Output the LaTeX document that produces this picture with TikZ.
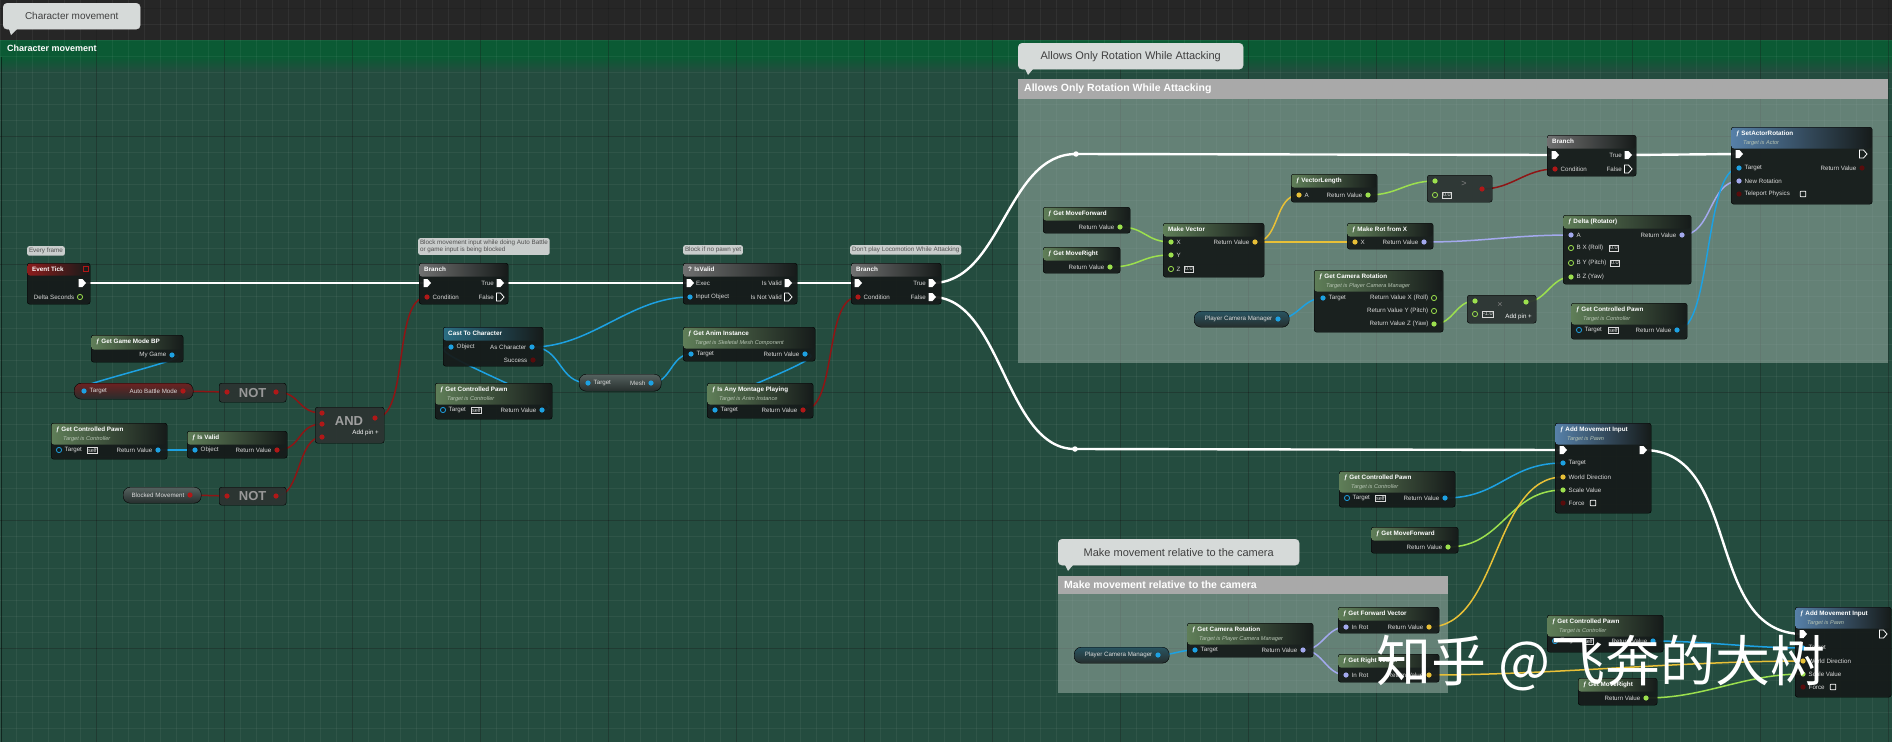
\documentclass[tikz,border=0pt]{standalone}
\usepackage{fontspec}
\setmainfont{Liberation Sans}
\newfontfamily\zhfont{Noto Sans CJK SC}
\usepackage{tikz}
\usetikzlibrary{calc}
\usetikzlibrary{positioning}

\pgfdeclarelayer{board}
\pgfdeclarelayer{wires}
\pgfdeclarelayer{front}
\pgfsetlayers{board,wires,main,front}

\definecolor{topbg}{HTML}{262626}
\definecolor{bandgreen}{HTML}{0B5A34}
\definecolor{boardgreen}{HTML}{244C3F}
\definecolor{grpbody}{HTML}{A4B6AE}
\definecolor{grphead}{HTML}{A9A9A9}
\definecolor{bubblegray}{HTML}{D6DAD9}
\definecolor{notegray}{HTML}{C9CDCC}
\definecolor{nodebg}{HTML}{161B1A}
\definecolor{opbg}{HTML}{2C3432}
\definecolor{pilltop}{HTML}{55625F}
\definecolor{pillbg}{HTML}{262E2D}
\definecolor{hdfunc}{HTML}{5F7E58}
\definecolor{hdgray}{HTML}{707070}
\definecolor{hdcast}{HTML}{2B6E84}
\definecolor{hdevent}{HTML}{8B1C1C}
\definecolor{hdcall}{HTML}{5680A8}
\definecolor{objc}{HTML}{1DA1E2}
\definecolor{boolc}{HTML}{8E1515}
\definecolor{pinred}{HTML}{B01818}
\definecolor{floatc}{HTML}{9CE04E}
\definecolor{vecc}{HTML}{E8C037}
\definecolor{rotc}{HTML}{A3A9EE}
\definecolor{lblc}{HTML}{DADADA}
\definecolor{notetext}{HTML}{505050}

\tikzset{
  gridminor/.style={draw=white, opacity=0.05, line width=0.5pt},
  gridmajor/.style={draw=black, opacity=0.3, line width=0.7pt},
  bigbubble/.style={fill=bubblegray, draw=white!70!gray, rounded corners=4pt, anchor=north west, inner sep=0pt, text=notetext!80!black},
  smallnote/.style={fill=notegray, rounded corners=2pt, anchor=north west, inner sep=1.8pt, text=notetext, font=\fontsize{6.3}{7.2}\selectfont, align=left},
  bandtitle/.style={anchor=west, inner sep=0pt, text=white, font=\bfseries\fontsize{9}{10}\selectfont},
  grptitle/.style={anchor=west, inner sep=0pt, font=\bfseries\fontsize{10.5}{12}\selectfont},
  bpbody/.style={fill=nodebg, fill opacity=0.94, draw=black, rounded corners=2.5pt, anchor=north west, inner sep=0pt},
  bptitle/.style={anchor=west, inner sep=0pt, text=white, font=\bfseries\fontsize{6.3}{7}\selectfont},
  bpsubt/.style={anchor=west, inner sep=0pt, text=white!55!hdfunc, font=\itshape\fontsize{5.6}{6}\selectfont},
  pinlbl/.style={inner sep=0pt, text=lblc, font=\fontsize{6.2}{7}\selectfont},
  opbox/.style={bpbody, fill=opbg, text=gray!75, font=\bfseries\fontsize{13}{13}\selectfont},
  pill/.style={draw=black, rounded corners=7pt, anchor=north west, inner sep=0pt, top color=#1, bottom color=pillbg},
  pill/.default=pilltop,
  valbox/.style={draw=lblc, line width=0.5pt, inner sep=0.8pt, anchor=west, text=lblc, font=\fontsize{5.6}{6}\selectfont},
  chkbox/.style={draw=white, line width=0.7pt, minimum size=5.5pt, inner sep=0pt, rounded corners=0.5pt},
  reroute/.style={circle, fill=white, minimum size=5.5pt, inner sep=0pt},
  pobj/.style={fill=objc}, pobjh/.style={draw=objc, line width=0.8pt},
  pbool/.style={fill=pinred}, pdim/.style={fill=pinred!50!black},
  pflt/.style={fill=floatc}, pflth/.style={draw=floatc, line width=0.8pt},
  pvec/.style={fill=vecc}, prot/.style={fill=rotc},
  pex/.style={fill=white}, pexh/.style={draw=white, line width=0.8pt},
  execw/.style={draw=white, line width=2.4pt},
  wire/.style={draw=#1, line width=1.5pt}
}

% blueprint node: name, x, y, width, height, header colour, header height, title
\newcommand{\bpnode}[8]{%
  \node[bpbody, minimum width=#4pt, minimum height=#5pt] (#1) at (#2,#3) {};
  \shade[left color=#6, right color=nodebg, rounded corners=2.5pt] (#2+0.5,#3+0.5) rectangle ++(#4-1,#7);
  \node[bptitle] (#1-title) at (#2+5,#3+6.5) {#8};
}
\newcommand{\bpsub}[4]{\node[bpsubt] (#1-sub) at (#2+12,#3+16) {#4};}
\newcommand{\inpin}[5]{%
  \coordinate (#1) at (#2,#3);
  \path[#4] (#1) circle (2.6pt);
  \node[pinlbl, anchor=west] (#1-lbl) at (#2+5.5,#3) {#5};
}
\newcommand{\outpin}[5]{%
  \coordinate (#1) at (#2,#3);
  \path[#4] (#1) circle (2.6pt);
  \node[pinlbl, anchor=east] (#1-lbl) at (#2-5.5,#3) {#5};
}
\newcommand{\execin}[5]{%
  \coordinate (#1) at (#2,#3);
  \path[#4] (#2-3.5,#3-4) -- ++(4,0) -- ++(3.5,4) -- ++(-3.5,4) -- ++(-4,0) -- cycle;
  \node[pinlbl, anchor=west] (#1-lbl) at (#2+6,#3) {#5};
}
\newcommand{\execout}[5]{%
  \coordinate (#1) at (#2,#3);
  \path[#4] (#2-3.5,#3-4) -- ++(4,0) -- ++(3.5,4) -- ++(-3.5,4) -- ++(-4,0) -- cycle;
  \node[pinlbl, anchor=east] (#1-lbl) at (#2-6,#3) {#5};
}

\begin{document}
\begin{tikzpicture}[x=1pt,y=-1pt]
\useasboundingbox (0,0) rectangle (1892,742);

\begin{pgfonlayer}{board}
% graph background and the big comment
\fill[topbg] (0,0) rectangle (1892,742);
\fill[boardgreen] (0,40) rectangle (1892,742);
\shade[top color=bandgreen, bottom color=boardgreen] (0,57) rectangle (1892,72);
\fill[bandgreen] (0,40) rectangle (1892,57);
\foreach \gx in {0,16,...,1888} \draw[gridminor] (\gx,0) -- (\gx,742);
\foreach \gy in {8,24,...,740} \draw[gridminor] (0,\gy) -- (1892,\gy);
\foreach \gx in {96,224,...,1888} \draw[gridmajor] (\gx,0) -- (\gx,742);
\foreach \gy in {8,136,...,740} \draw[gridmajor] (0,\gy) -- (1892,\gy);
\draw[black, opacity=0.5, line width=1pt] (1.5,57) -- (1.5,742);
\node[bandtitle] (bandtext) at (7,48.5) {Character movement};
\node[bigbubble, minimum width=137pt, minimum height=26pt, font=\fontsize{10}{12}\selectfont] (topnote) at (3,3) {Character movement};
\fill[bubblegray] (9,29) -- (17,29) -- (11,35) -- cycle;

% group: rotation while attacking
\fill[grpbody, fill opacity=0.5] (1018,99) rectangle (1888,363);
\fill[grphead] (1018,79) rectangle (1888,99);
\node[grptitle, text=white] (grot) at (1024,89) {Allows Only Rotation While Attacking};
\node[bigbubble, minimum width=225pt, minimum height=26pt, font=\fontsize{11}{13}\selectfont] (grotnote) at (1018,43) {Allows Only Rotation While Attacking};
\fill[bubblegray] (1025,69) -- (1033,69) -- (1028,75) -- cycle;

% group: relative to camera
\fill[grpbody, fill opacity=0.5] (1058,594) rectangle (1448,693);
\fill[grphead] (1058,576) rectangle (1448,594);
\node[grptitle, text=white] (gcam) at (1064,585) {Make movement relative to the camera};
\node[bigbubble, minimum width=241pt, minimum height=26pt, font=\fontsize{11}{13}\selectfont] (gcamnote) at (1058,539) {Make movement relative to the camera};
\fill[bubblegray] (1065,565) -- (1073,565) -- (1068,571) -- cycle;
\end{pgfonlayer}

% ---- left part
\node[smallnote] (noteframe) at (27,246) {Every frame};
\bpnode{tick}{27}{263}{63}{41}{hdevent}{12}{Event Tick}
\draw[pinred, line width=0.7pt] (83,266) rectangle (88,271);
\execout{tick-exec}{82}{283}{pex}{}
\outpin{tick-delta}{80}{297}{pflth}{Delta Seconds}

\bpnode{gmbp}{91}{335}{92}{27}{hdfunc}{14}{ƒ Get Game Mode BP}
\outpin{gmbp-game}{172}{355}{pobj}{My Game}

\node[pill=hdevent!70!pillbg, minimum width=119pt, minimum height=16pt] (abm) at (74,383) {};
\inpin{abm-target}{84}{391}{pobj}{Target}
\outpin{abm-out}{183}{391}{pbool}{Auto Battle Mode}

\node[opbox, minimum width=67pt, minimum height=19pt] (not1) at (219,383) {NOT};
\inpin{not1-in}{227}{392}{pbool}{}
\outpin{not1-out}{276}{392}{pbool}{}

\node[opbox, minimum width=69pt, minimum height=36pt] (andop) at (315,407) {};
\node[inner sep=0pt, text=gray!75, font=\bfseries\fontsize{13}{13}\selectfont] (andtxt) at (349,421) {AND};
\node[pinlbl, anchor=east, text=white] (andadd) at (379,433) {Add pin +};
\inpin{and-a}{322}{413}{pbool}{}
\inpin{and-b}{322}{424}{pbool}{}
\inpin{and-c}{322}{437}{pbool}{}
\outpin{and-out}{375}{418}{pbool}{}

\bpnode{gcpa}{51}{423}{116}{36}{hdfunc}{21}{ƒ Get Controlled Pawn}
\bpsub{gcpa}{51}{423}{Target is Controller}
\inpin{gcpa-target}{59}{450}{pobjh}{Target}
\node[valbox] (gcpa-self) at (87,450) {self};
\outpin{gcpa-rv}{158}{450}{pobj}{Return Value}

\bpnode{isv}{187}{431}{100}{27}{hdfunc}{13}{ƒ Is Valid}
\inpin{isv-obj}{195}{450}{pobj}{Object}
\outpin{isv-rv}{277}{450}{pbool}{Return Value}

\node[pill, minimum width=78pt, minimum height=16pt] (blocked) at (123,487) {};
\outpin{blocked-out}{190}{495}{pbool}{Blocked Movement}

\node[opbox, minimum width=67pt, minimum height=18pt] (not2) at (219,487) {NOT};
\inpin{not2-in}{227}{496}{pbool}{}
\outpin{not2-out}{276}{496}{pbool}{}

% ---- middle part
\node[smallnote] (noteblock) at (418,238) {Block movement input while doing Auto Battle\\or game input is being blocked};
\bpnode{bra}{419}{263}{89}{41}{hdgray}{13}{Branch}
\execin{bra-exec}{427}{283}{pex}{}
\execout{bra-true}{500}{283}{pex}{True}
\inpin{bra-cond}{427}{297}{pbool}{Condition}
\execout{bra-false}{500}{297}{pexh}{False}

\bpnode{cast}{443}{327}{100}{39}{hdcast}{13}{Cast To Character}
\inpin{cast-obj}{451}{347}{pobj}{Object}
\outpin{cast-char}{532}{347}{pobj}{As Character}
\outpin{cast-ok}{533}{360}{pdim}{Success}

\bpnode{gcpb}{435}{383}{117}{36}{hdfunc}{21}{ƒ Get Controlled Pawn}
\bpsub{gcpb}{435}{383}{Target is Controller}
\inpin{gcpb-target}{443}{410}{pobjh}{Target}
\node[valbox] (gcpb-self) at (471,410) {self};
\outpin{gcpb-rv}{542}{410}{pobj}{Return Value}

\node[pill, minimum width=82pt, minimum height=17pt] (mesh) at (579,374) {};
\inpin{mesh-target}{588}{383}{pobj}{Target}
\outpin{mesh-out}{651}{383}{pobj}{Mesh}

\node[smallnote] (notepawn) at (683,245) {Block if no pawn yet};
\bpnode{isvm}{683}{263}{114}{41}{hdgray}{13}{? IsValid}
\execin{isvm-exec}{690}{283}{pex}{Exec}
\execout{isvm-yes}{788}{283}{pex}{Is Valid}
\inpin{isvm-obj}{690}{297}{pobj}{Input Object}
\execout{isvm-no}{788}{297}{pexh}{Is Not Valid}

\bpnode{gai}{683}{327}{132}{34}{hdfunc}{21}{ƒ Get Anim Instance}
\bpsub{gai}{683}{327}{Target is Skeletal Mesh Component}
\inpin{gai-target}{691}{354}{pobj}{Target}
\outpin{gai-rv}{805}{354}{pobj}{Return Value}

\bpnode{iamp}{707}{383}{106}{35}{hdfunc}{21}{ƒ Is Any Montage Playing}
\bpsub{iamp}{707}{383}{Target is Anim Instance}
\inpin{iamp-target}{715}{410}{pobj}{Target}
\outpin{iamp-rv}{803}{410}{pbool}{Return Value}

\node[smallnote] (notelocomotion) at (850,245) {Don't play Locomotion While Attacking};
\bpnode{brb}{851}{263}{90}{41}{hdgray}{13}{Branch}
\execin{brb-exec}{858}{283}{pex}{}
\execout{brb-true}{932}{283}{pex}{True}
\inpin{brb-cond}{858}{297}{pbool}{Condition}
\execout{brb-false}{932}{297}{pex}{False}

\node[reroute] (rra) at (1076,154) {};
\node[reroute] (rrb) at (1075,449) {};

% ---- rotation group
\bpnode{gmfa}{1043}{207}{87}{26}{hdfunc}{13}{ƒ Get MoveForward}
\outpin{gmfa-rv}{1120}{227}{pflt}{Return Value}
\bpnode{gmra}{1043}{247}{77}{26}{hdfunc}{13}{ƒ Get MoveRight}
\outpin{gmra-rv}{1110}{267}{pflt}{Return Value}

\bpnode{mvec}{1163}{223}{101}{54}{hdfunc}{13}{Make Vector}
\inpin{mvec-x}{1171}{242}{pflt}{X}
\inpin{mvec-y}{1171}{255}{pflt}{Y}
\inpin{mvec-z}{1171}{269}{pflth}{Z}
\node[valbox] (mvec-zval) at (1184,269) {0.0};
\outpin{mvec-rv}{1255}{242}{pvec}{Return Value}

\bpnode{vlen}{1291}{174}{86}{28}{hdfunc}{13}{ƒ VectorLength}
\inpin{vlen-a}{1299}{195}{pvec}{A}
\outpin{vlen-rv}{1368}{195}{pflt}{Return Value}

\node[bpbody, fill=opbg, minimum width=65pt, minimum height=27pt] (cmp) at (1427,175) {};
\node[inner sep=0pt, text=gray, font=\fontsize{9}{9}\selectfont] (cmp-sym) at (1464,184) {>};
\inpin{cmp-a}{1435}{181}{pflt}{}
\inpin{cmp-b}{1435}{195}{pflth}{}
\node[valbox] (cmp-bval) at (1442,195) {0.0};
\outpin{cmp-out}{1482}{189}{pbool}{}

\bpnode{mrot}{1347}{223}{86}{26}{hdfunc}{13}{ƒ Make Rot from X}
\inpin{mrot-x}{1355}{242}{pvec}{X}
\outpin{mrot-rv}{1424}{242}{prot}{Return Value}

\bpnode{gcra}{1314}{270}{129}{62}{hdfunc}{21}{ƒ Get Camera Rotation}
\bpsub{gcra}{1314}{270}{Target is Player Camera Manager}
\inpin{gcra-target}{1323}{298}{pobj}{Target}
\outpin{gcra-x}{1434}{298}{pflth}{Return Value X (Roll)}
\outpin{gcra-y}{1434}{311}{pflth}{Return Value Y (Pitch)}
\outpin{gcra-z}{1434}{324}{pflt}{Return Value Z (Yaw)}

\node[pill=hdcast!60!pillbg, minimum width=95pt, minimum height=16pt] (pcma) at (1194,311) {};
\outpin{pcma-out}{1278}{319}{pobj}{Player Camera Manager}

\bpnode{brc}{1547}{135}{89}{41}{hdgray}{13}{Branch}
\execin{brc-exec}{1555}{155}{pex}{}
\execout{brc-true}{1628}{155}{pex}{True}
\inpin{brc-cond}{1555}{169}{pbool}{Condition}
\execout{brc-false}{1628}{169}{pexh}{False}

\node[bpbody, fill=opbg, minimum width=69pt, minimum height=28pt] (mul) at (1467,295) {};
\node[inner sep=0pt, text=gray, font=\fontsize{9}{9}\selectfont] (mul-sym) at (1500,305) {×};
\node[pinlbl, anchor=east, text=white] (mul-add) at (1532,317) {Add pin +};
\inpin{mul-a}{1475}{301}{pflt}{}
\inpin{mul-b}{1475}{314}{pflth}{}
\node[valbox] (mul-bval) at (1482,314) {-1.0};
\outpin{mul-out}{1526}{302}{pflt}{}

\bpnode{drot}{1563}{215}{128}{69}{hdfunc}{13}{ƒ Delta (Rotator)}
\inpin{drot-a}{1571}{235}{prot}{A}
\inpin{drot-bx}{1571}{248}{pflth}{B X (Roll)}
\node[valbox] (drot-bxval) at (1609,248) {0.0};
\inpin{drot-by}{1571}{263}{pflth}{B Y (Pitch)}
\node[valbox] (drot-byval) at (1610,263) {0.0};
\inpin{drot-bz}{1571}{277}{pflt}{B Z (Yaw)}
\outpin{drot-rv}{1682}{235}{prot}{Return Value}

\bpnode{gcpc}{1571}{303}{116}{36}{hdfunc}{21}{ƒ Get Controlled Pawn}
\bpsub{gcpc}{1571}{303}{Target is Controller}
\inpin{gcpc-target}{1579}{330}{pobjh}{Target}
\node[valbox] (gcpc-self) at (1608,330) {self};
\outpin{gcpc-rv}{1677}{330}{pobj}{Return Value}

\bpnode{sar}{1731}{127}{141}{77}{hdcall}{21}{ƒ SetActorRotation}
\bpsub{sar}{1731}{127}{Target is Actor}
\execin{sar-exec}{1739}{154}{pex}{}
\execout{sar-then}{1863}{154}{pexh}{}
\inpin{sar-target}{1739}{168}{pobj}{Target}
\outpin{sar-rv}{1862}{168}{pdim}{Return Value}
\inpin{sar-rot}{1739}{181}{prot}{New Rotation}
\inpin{sar-tp}{1739}{194}{pdim}{Teleport Physics}
\node[chkbox] (sar-tpbox) at (1803,194) {};

% ---- movement input
\bpnode{amia}{1555}{423}{96}{90}{hdcall}{21}{ƒ Add Movement Input}
\bpsub{amia}{1555}{423}{Target is Pawn}
\execin{amia-exec}{1563}{450}{pex}{}
\execout{amia-then}{1643}{450}{pex}{}
\inpin{amia-target}{1563}{463}{pobj}{Target}
\inpin{amia-dir}{1563}{477}{pvec}{World Direction}
\inpin{amia-scale}{1563}{490}{pflt}{Scale Value}
\inpin{amia-force}{1563}{503}{pdim}{Force}
\node[chkbox] (amia-forcebox) at (1593,503) {};

\bpnode{gcpd}{1339}{471}{116}{36}{hdfunc}{21}{ƒ Get Controlled Pawn}
\bpsub{gcpd}{1339}{471}{Target is Controller}
\inpin{gcpd-target}{1347}{498}{pobjh}{Target}
\node[valbox] (gcpd-self) at (1375,498) {self};
\outpin{gcpd-rv}{1445}{498}{pobj}{Return Value}

\bpnode{gmfb}{1371}{527}{87}{26}{hdfunc}{13}{ƒ Get MoveForward}
\outpin{gmfb-rv}{1448}{547}{pflt}{Return Value}

\node[pill=hdcast!60!pillbg, minimum width=95pt, minimum height=16pt] (pcmb) at (1074,647) {};
\outpin{pcmb-out}{1158}{655}{pobj}{Player Camera Manager}

\bpnode{gcrb}{1187}{623}{126}{34}{hdfunc}{21}{ƒ Get Camera Rotation}
\bpsub{gcrb}{1187}{623}{Target is Player Camera Manager}
\inpin{gcrb-target}{1195}{650}{pobj}{Target}
\outpin{gcrb-rv}{1303}{650}{prot}{Return Value}

\bpnode{gfv}{1338}{607}{101}{26}{hdfunc}{13}{ƒ Get Forward Vector}
\inpin{gfv-rot}{1346}{627}{prot}{In Rot}
\outpin{gfv-rv}{1429}{627}{pvec}{Return Value}

\bpnode{grv}{1338}{654}{101}{28}{hdfunc}{13}{ƒ Get Right Vector}
\inpin{grv-rot}{1346}{675}{prot}{In Rot}
\outpin{grv-rv}{1429}{675}{pvec}{Return Value}

\bpnode{gcpe}{1547}{615}{116}{37}{hdfunc}{21}{ƒ Get Controlled Pawn}
\bpsub{gcpe}{1547}{615}{Target is Controller}
\inpin{gcpe-target}{1555}{641}{pobjh}{Target}
\node[valbox] (gcpe-self) at (1583,641) {self};
\outpin{gcpe-rv}{1653}{641}{pobj}{Return Value}

\bpnode{gmrb}{1578}{678}{79}{27}{hdfunc}{13}{ƒ Get MoveRight}
\outpin{gmrb-rv}{1646}{698}{pflt}{Return Value}

\bpnode{amib}{1795}{607}{96}{90}{hdcall}{21}{ƒ Add Movement Input}
\bpsub{amib}{1795}{607}{Target is Pawn}
\execin{amib-exec}{1803}{634}{pex}{}
\execout{amib-then}{1883}{634}{pexh}{}
\inpin{amib-target}{1803}{648}{pobj}{Target}
\inpin{amib-dir}{1803}{661}{pvec}{World Direction}
\inpin{amib-scale}{1803}{674}{pflt}{Scale Value}
\inpin{amib-force}{1803}{687}{pdim}{Force}
\node[chkbox] (amib-forcebox) at (1833,687) {};

\begin{pgfonlayer}{wires}
% exec flow
\draw[execw] (tick-exec) -- (bra-exec);
\draw[execw] (bra-true) -- (isvm-exec);
\draw[execw] (isvm-yes) -- (brb-exec);
\draw[execw] (brb-true) .. controls +(70,0) and +(-70,0) .. (rra.center);
\draw[execw] (rra.center) -- (brc-exec);
\draw[execw] (brc-true) -- (sar-exec);
\draw[execw] (brb-false) .. controls +(70,0) and +(-70,0) .. (rrb.center);
\draw[execw] (rrb.center) -- (amia-exec);
\draw[execw] (amia-then) .. controls +(100,0) and +(-100,0) .. (amib-exec);
% left data
\draw[wire=objc] (gmbp-game) .. controls +(40,0) and +(-40,0) .. (abm-target);
\draw[wire=boolc] (abm-out) -- (not1-in);
\draw[wire=boolc] (not1-out) .. controls +(25,0) and +(-25,0) .. (and-a);
\draw[wire=boolc] (isv-rv) .. controls +(25,0) and +(-25,0) .. (and-b);
\draw[wire=boolc] (not2-out) .. controls +(25,0) and +(-25,0) .. (and-c);
\draw[wire=boolc] (blocked-out) -- (not2-in);
\draw[wire=objc] (gcpa-rv) -- (isv-obj);
\draw[wire=boolc] (and-out) .. controls +(35,0) and +(-35,0) .. (bra-cond);
% middle data
\draw[wire=objc] (gcpb-rv) .. controls +(45,0) and +(-45,0) .. (cast-obj);
\draw[wire=objc] (cast-char) .. controls +(60,0) and +(-60,0) .. (isvm-obj);
\draw[wire=objc] (cast-char) .. controls +(30,0) and +(-30,0) .. (mesh-target);
\draw[wire=objc] (mesh-out) .. controls +(20,0) and +(-20,0) .. (gai-target);
\draw[wire=objc] (gai-rv) .. controls +(40,0) and +(-40,0) .. (iamp-target);
\draw[wire=boolc] (iamp-rv) .. controls +(35,0) and +(-35,0) .. (brb-cond);
% rotation data
\draw[wire=floatc] (gmfa-rv) .. controls +(25,0) and +(-25,0) .. (mvec-x);
\draw[wire=floatc] (gmra-rv) .. controls +(30,0) and +(-30,0) .. (mvec-y);
\draw[wire=vecc] (mvec-rv) .. controls +(25,0) and +(-25,0) .. (vlen-a);
\draw[wire=vecc] (mvec-rv) -- (mrot-x);
\draw[wire=floatc] (vlen-rv) .. controls +(30,0) and +(-30,0) .. (cmp-a);
\draw[wire=boolc] (cmp-out) .. controls +(30,0) and +(-30,0) .. (brc-cond);
\draw[wire=rotc] (mrot-rv) .. controls +(60,0) and +(-60,0) .. (drot-a);
\draw[wire=objc] (pcma-out) .. controls +(20,0) and +(-20,0) .. (gcra-target);
\draw[wire=floatc] (gcra-z) .. controls +(20,0) and +(-20,0) .. (mul-a);
\draw[wire=floatc] (mul-out) .. controls +(20,0) and +(-20,0) .. (drot-bz);
\draw[wire=rotc] (drot-rv) .. controls +(30,0) and +(-30,0) .. (sar-rot);
\draw[wire=objc] (gcpc-rv) .. controls +(35,0) and +(-35,0) .. (sar-target);
% movement data
\draw[wire=objc] (gcpd-rv) .. controls +(55,0) and +(-55,0) .. (amia-target);
\draw[wire=floatc] (gmfb-rv) .. controls +(55,0) and +(-55,0) .. (amia-scale);
\draw[wire=vecc] (gfv-rv) .. controls +(70,0) and +(-70,0) .. (amia-dir);
\draw[wire=objc] (pcmb-out) .. controls +(15,0) and +(-15,0) .. (gcrb-target);
\draw[wire=rotc] (gcrb-rv) .. controls +(20,0) and +(-20,0) .. (gfv-rot);
\draw[wire=rotc] (gcrb-rv) .. controls +(20,0) and +(-20,0) .. (grv-rot);
\draw[wire=vecc] (grv-rv) .. controls +(120,0) and +(-120,0) .. (amib-dir);
\draw[wire=objc] (gcpe-rv) .. controls +(50,0) and +(-50,0) .. (amib-target);
\draw[wire=floatc] (gmrb-rv) .. controls +(60,0) and +(-60,0) .. (amib-scale);
\end{pgfonlayer}

\begin{pgfonlayer}{front}
\node[anchor=west, inner sep=0pt, text=white, font=\zhfont\fontsize{55}{55}\selectfont] (mark) at (1376,663) {知乎 @飞奔的大树};
\end{pgfonlayer}
\end{tikzpicture}
\end{document}
